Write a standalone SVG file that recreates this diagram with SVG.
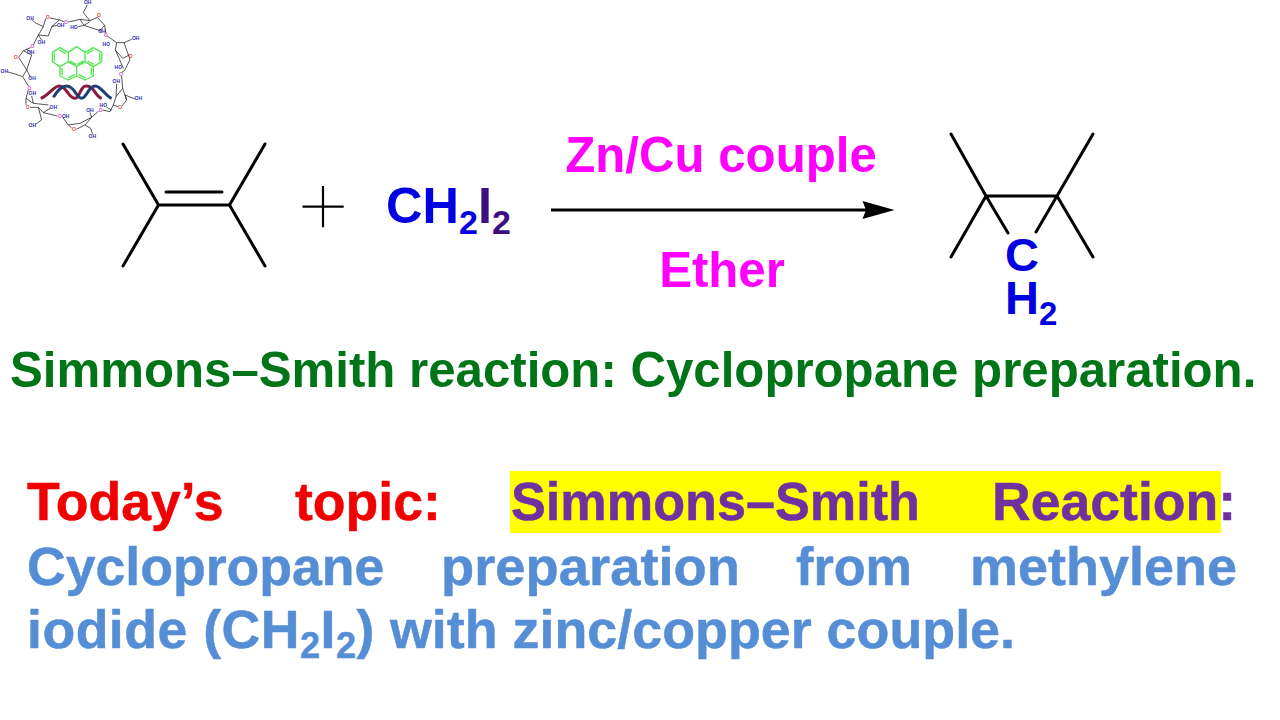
<svg xmlns="http://www.w3.org/2000/svg" width="1280" height="720" viewBox="0 0 1280 720">
<style>
.b{stroke:#000;stroke-width:3;fill:none;stroke-linecap:round}
.a{font-family:"Liberation Sans",Arial,sans-serif;font-weight:700;font-size:49.200px}
.o{font-family:"Liberation Sans",Arial,sans-serif;font-weight:700;font-size:53.600px;stroke-width:.5;stroke-linejoin:round}
.bl{fill:#0000e0}
.mg{fill:#f0f}
.lg text{font-family:"Liberation Sans",Arial,sans-serif;font-size:15px;font-weight:700;text-anchor:middle}
.h{fill:#3030b0}
.rd{fill:#d0503c}
.pk{fill:#cc55cc}
.r{stroke:#222;stroke-width:2.300;fill:none;stroke-linejoin:round}
.g{stroke:#4ee84e;stroke-width:4;fill:none;stroke-linejoin:round}
</style>
<rect width="1280" height="720" fill="#fff"/>
<g id="logo" class="lg" transform="scale(.3333)">
<path class="r" d="M205 66 240 58 270 62 292 52 314 76 318 100M240 58 252 76 268 66M252 76 300 92 314 76M252 76 235 80M270 62 250 38 262 14M300 92 305 96
M322 108 350 128 346 150 368 175 388 165M350 128 372 128 395 118M372 128 390 178 375 210 365 218M346 150 356 172 370 205
M365 228 368 265 348 290 340 315 354 320M366 318 380 300 368 265M380 300 375 285 405 297M348 290 350 252M340 315 330 335 308 330M335 330 320 322
M296 333 275 352 255 375 229 388M215 384 205 375 188 352M205 375 240 370 275 352M275 352 270 337M255 375 272 385 278 403
M172 348 130 338 115 322 90 322M78 315 78 295 85 270M115 322 125 360 108 372M130 338 150 325M145 315 100 310 78 295M100 310 95 288
M85 258 68 230 45 222 24 216M68 230 80 210 56 172M80 210 92 232M56 172 70 152 92 143M80 148 92 156M80 210 95 165 70 152
M100 135 115 105 145 108 155 80 178 60 192 65M178 60 150 54M137 56 130 80 115 105 125 120M130 80 105 68 95 58M155 80 172 76"/>
<path class="g" d="M180 143 205 157 205 185 180 200 157 185 157 157ZM205 157 230 140 255 157 255 185 230 200 205 185ZM255 157 280 143 305 157 305 185 280 200 255 185ZM180 200 180 228 205 240 230 228 230 200M230 228 255 240 280 228 280 200
M178 150 198 161M163 160V182M261 161 280 150M299 160V182M281 193 263 183M186 204V225M206 233 224 224M236 224 255 233M274 225V204M232 193 250 183M210 183 228 193"/>
<path d="M122 295C145 288 160 258 178 258C200 258 205 295 225 295C240 295 240 258 258 258C285 258 285 290 305 295" stroke="#8b1a3c" stroke-width="9" fill="none"/>
<path d="M160 292C172 272 185 258 200 258C225 258 228 295 245 295C260 295 265 258 285 258C305 258 315 288 335 295" stroke="#1f3f72" stroke-width="9" fill="none"/>
<g class="h"><text x="263" y="11">OH</text><text x="90" y="59">OH</text><text x="182" y="81">OH</text><text x="222" y="86">HO</text><text x="306" y="100">OH</text><text x="407" y="121">OH</text><text x="319" y="139">HO</text><text x="124" y="132">OH</text><text x="92" y="162">OH</text><text x="355" y="207">HO</text><text x="349" y="248">OH</text><text x="415" y="300">OH</text><text x="96" y="239">OH</text><text x="13" y="220">OH</text><text x="97" y="285">OH</text><text x="160" y="328">OH</text><text x="310" y="321">HO</text><text x="197" y="355">OH</text><text x="270" y="335">OH</text><text x="97" y="380">OH</text><text x="277" y="415">OH</text></g>
<g class="rd"><text x="143" y="57">O</text><text x="297" y="52">O</text><text x="392" y="175">O</text><text x="47" y="177">O</text><text x="83" y="327">O</text><text x="222" y="393">O</text><text x="360" y="326">O</text></g>
<g class="pk"><text x="198" y="71">O</text><text x="318" y="110">O</text><text x="363" y="227">O</text><text x="97" y="145">O</text><text x="88" y="269">O</text><text x="180" y="353">O</text><text x="302" y="335">O</text></g>
</g>
<g id="connectors">
<path d="M551 210H870" stroke="#000" stroke-width="3" fill="none"/>
<path d="M862.500 201 894.500 210 862.500 219 866 210Z" fill="#000"/>
</g>
<g id="alkene">
<path class="b" d="M123 144 158.500 205 123 266M265 144 229.500 205 265 266M158.500 205H229.500M166 192H222"/>
</g>
<g id="plus"><path d="M302.500 206.700H343.700M323 186V227.300" stroke="#000" stroke-width="2.200" fill="none"/></g>
<g id="diiodomethane"><text class="a bl" x="386" y="222.500" style="font-size:50.500px">CH<tspan font-size="34" dy="11">2</tspan><tspan dy="-11" style="fill:#3c0f80">I</tspan><tspan dy="11" font-size="34" style="fill:#3c0f80">2</tspan></text></g>
<g id="reagents">
<text class="a mg" x="721" y="172" text-anchor="middle">Zn/Cu couple</text>
<text class="a mg" x="722" y="287" text-anchor="middle">Ether</text>
</g>
<g id="cyclopropane">
<path class="b" d="M951 134 986 196 951 257M1093 134 1057 196 1093 257M986 196H1057M986 196 1008 233M1057 196 1036 232"/>
<text class="a bl" y="271" style="font-size:47px"><tspan x="1005">C</tspan><tspan x="1005" y="314">H</tspan><tspan font-size="33" dy="11">2</tspan></text>
</g>
<g id="caption"><text class="a" x="10" y="387" fill="#007518">Simmons–Smith reaction: Cyclopropane preparation.</text></g>
<rect id="highlight" x="510" y="471" width="711" height="62" fill="#ffff00"/>
<g id="topic">
<g fill="#f00000" stroke="#f00000"><text class="o" x="27" y="520">Today’s</text><text class="o" x="295" y="520">topic:</text></g>
<g fill="#7030a0" stroke="#7030a0"><text class="o" x="511" y="520" textLength="409" lengthAdjust="spacingAndGlyphs">Simmons–Smith</text><text class="o" x="992" y="520">Reaction:</text></g>
<g fill="#558ed5" stroke="#558ed5">
<text class="o" x="27" y="585">Cyclopropane</text>
<text class="o" x="441" y="585" textLength="299" lengthAdjust="spacingAndGlyphs">preparation</text>
<text class="o" x="796" y="585" textLength="116" lengthAdjust="spacingAndGlyphs">from</text>
<text class="o" x="970" y="585" textLength="267" lengthAdjust="spacingAndGlyphs">methylene</text>
<text class="o" x="27" y="648" letter-spacing=".5">iodide (CH<tspan font-size="36" dy="10">2</tspan><tspan dy="-10">I</tspan><tspan font-size="36" dy="10">2</tspan><tspan dy="-10">)</tspan></text>
<text class="o" x="390" y="648" textLength="625" lengthAdjust="spacingAndGlyphs">with zinc/copper couple.</text>
</g>
</g>
</svg>
